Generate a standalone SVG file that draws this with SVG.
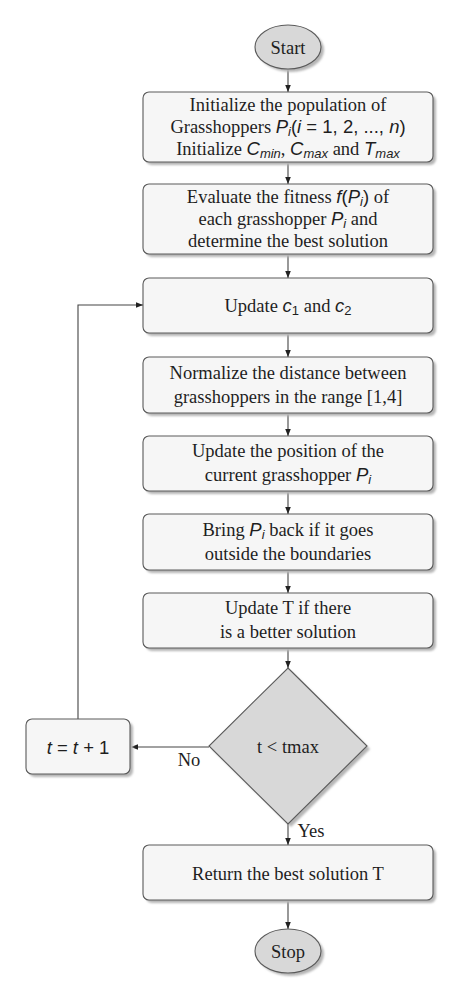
<svg xmlns="http://www.w3.org/2000/svg" width="474" height="984" viewBox="0 0 474 984">
<defs>
<style>
.box{fill:#f6f6f6;stroke:#5a5a5a;stroke-width:1.1}
.term{fill:#d8d8d8;stroke:#5a5a5a;stroke-width:1.1}
.sh{fill:#b5b5b5}
.t{font-family:"Liberation Serif","Times New Roman",serif;font-size:18.5px;fill:#1e1e1e;text-anchor:middle}
.m{font-family:"Liberation Sans",Arial,sans-serif;font-style:italic}
.mu{font-family:"Liberation Sans",Arial,sans-serif}
.s{font-size:13px}
.ln{fill:none;stroke:#444;stroke-width:1.1}
</style>
<marker id="ah" viewBox="0 0 10 10" refX="10" refY="5" markerWidth="7" markerHeight="7" orient="auto" markerUnits="userSpaceOnUse">
<path d="M0,1 L10,5 L0,9 z" fill="#222"/>
</marker>
<filter id="blur" x="-10%" y="-10%" width="120%" height="120%"><feGaussianBlur stdDeviation="1"/></filter>
</defs>
<rect width="474" height="984" fill="#ffffff"/>

<g id="connectors">
<line class="ln" x1="288" y1="69" x2="288" y2="92" marker-end="url(#ah)"/>
<line class="ln" x1="288" y1="162" x2="288" y2="184" marker-end="url(#ah)"/>
<line class="ln" x1="288" y1="254" x2="288" y2="278" marker-end="url(#ah)"/>
<line class="ln" x1="288" y1="333" x2="288" y2="357" marker-end="url(#ah)"/>
<line class="ln" x1="288" y1="413" x2="288" y2="436" marker-end="url(#ah)"/>
<line class="ln" x1="288" y1="491" x2="288" y2="514" marker-end="url(#ah)"/>
<line class="ln" x1="288" y1="570" x2="288" y2="593" marker-end="url(#ah)"/>
<line class="ln" x1="288" y1="648" x2="288" y2="668" marker-end="url(#ah)"/>
<line class="ln" x1="288" y1="824" x2="288" y2="845" marker-end="url(#ah)"/>
<line class="ln" x1="288" y1="901" x2="288" y2="929" marker-end="url(#ah)"/>
<line class="ln" x1="209" y1="747" x2="131" y2="747" marker-end="url(#ah)"/>
<polyline class="ln" points="78,719 78,305 143,305" marker-end="url(#ah)"/>
<text class="t" x="189" y="766">No</text>
<text class="t" x="311" y="837">Yes</text>
</g>

<g id="start">
<ellipse class="sh" cx="291" cy="50" rx="33" ry="22" filter="url(#blur)"/>
<ellipse class="term" cx="288" cy="47" rx="33" ry="22"/>
<text class="t" x="288" y="54">Start</text>
</g>

<g id="init">
<rect class="sh" x="146" y="95" width="290" height="70" rx="6" filter="url(#blur)"/>
<rect class="box" x="143" y="92" width="290" height="70" rx="6"/>
<text class="t" x="288" y="111">Initialize the population of</text>
<text class="t" x="288" y="133">Grasshoppers <tspan class="m">P</tspan><tspan class="m s" dy="3">i</tspan><tspan class="mu" dy="-3">(</tspan><tspan class="m">i</tspan><tspan class="mu"> = 1, 2, ..., </tspan><tspan class="m">n</tspan><tspan class="mu">)</tspan></text>
<text class="t" x="288" y="155">Initialize <tspan class="m">C</tspan><tspan class="m s" dy="3">min</tspan><tspan dy="-3">, </tspan><tspan class="m">C</tspan><tspan class="m s" dy="3">max</tspan><tspan dy="-3"> and </tspan><tspan class="m">T</tspan><tspan class="m s" dy="3">max</tspan></text>
</g>

<g id="evaluate">
<rect class="sh" x="146" y="187" width="290" height="70" rx="6" filter="url(#blur)"/>
<rect class="box" x="143" y="184" width="290" height="70" rx="6"/>
<text class="t" x="288" y="203">Evaluate the fitness <tspan class="m">f</tspan><tspan class="mu">(</tspan><tspan class="m">P</tspan><tspan class="m s" dy="3">i</tspan><tspan class="mu" dy="-3">)</tspan> of</text>
<text class="t" x="288" y="225">each grasshopper <tspan class="m">P</tspan><tspan class="m s" dy="3">i</tspan><tspan dy="-3"> and</tspan></text>
<text class="t" x="288" y="247">determine the best solution</text>
</g>

<g id="update-c">
<rect class="sh" x="146" y="281" width="290" height="55" rx="6" filter="url(#blur)"/>
<rect class="box" x="143" y="278" width="290" height="55" rx="6"/>
<text class="t" x="288" y="312">Update <tspan class="m">c</tspan><tspan class="mu s" dy="3">1</tspan><tspan dy="-3"> and </tspan><tspan class="m">c</tspan><tspan class="mu s" dy="3">2</tspan></text>
</g>

<g id="normalize">
<rect class="sh" x="146" y="360" width="290" height="56" rx="6" filter="url(#blur)"/>
<rect class="box" x="143" y="357" width="290" height="56" rx="6"/>
<text class="t" x="288" y="379">Normalize the distance between</text>
<text class="t" x="288" y="403">grasshoppers in the range [1,4]</text>
</g>

<g id="position">
<rect class="sh" x="146" y="439" width="290" height="55" rx="6" filter="url(#blur)"/>
<rect class="box" x="143" y="436" width="290" height="55" rx="6"/>
<text class="t" x="288" y="457">Update the position of the</text>
<text class="t" x="288" y="481">current grasshopper <tspan class="m">P</tspan><tspan class="m s" dy="3">i</tspan></text>
</g>

<g id="bring-back">
<rect class="sh" x="146" y="517" width="290" height="56" rx="6" filter="url(#blur)"/>
<rect class="box" x="143" y="514" width="290" height="56" rx="6"/>
<text class="t" x="288" y="536">Bring <tspan class="m">P</tspan><tspan class="m s" dy="3">i</tspan><tspan dy="-3"> back if it goes</tspan></text>
<text class="t" x="288" y="560">outside the boundaries</text>
</g>

<g id="update-t">
<rect class="sh" x="146" y="596" width="290" height="55" rx="6" filter="url(#blur)"/>
<rect class="box" x="143" y="593" width="290" height="55" rx="6"/>
<text class="t" x="288" y="614">Update T if there</text>
<text class="t" x="288" y="638">is a better solution</text>
</g>

<g id="decision">
<polygon class="sh" points="291,671 370,749 291,827 212,749" filter="url(#blur)"/>
<polygon class="term" points="288,668 367,746 288,824 209,746"/>
<text class="t" x="288" y="753">t &lt; tmax</text>
</g>

<g id="increment">
<rect class="sh" x="29" y="722" width="104" height="55" rx="6" filter="url(#blur)"/>
<rect class="box" x="26" y="719" width="104" height="55" rx="6"/>
<text class="t" x="78" y="754"><tspan class="m">t</tspan><tspan class="mu"> = </tspan><tspan class="m">t</tspan><tspan class="mu"> + 1</tspan></text>
</g>

<g id="return">
<rect class="sh" x="146" y="848" width="290" height="55" rx="6" filter="url(#blur)"/>
<rect class="box" x="143" y="845" width="290" height="55" rx="6"/>
<text class="t" x="288" y="880">Return the best solution T</text>
</g>

<g id="stop">
<ellipse class="sh" cx="291" cy="954" rx="33" ry="22" filter="url(#blur)"/>
<ellipse class="term" cx="288" cy="951" rx="33" ry="22"/>
<text class="t" x="288" y="958">Stop</text>
</g>
</svg>
